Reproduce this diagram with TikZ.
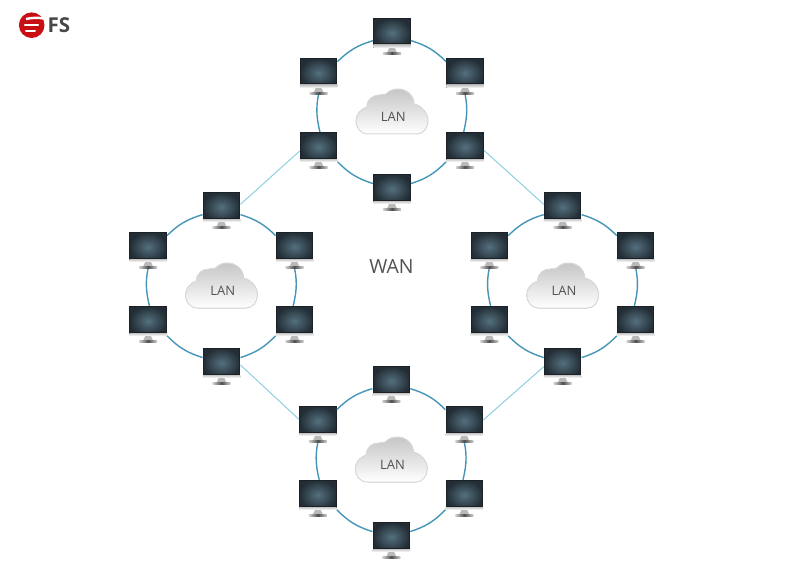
\documentclass[tikz,border=0pt]{standalone}
\usepackage{fontspec}
\setmainfont{Open Sans}
\usetikzlibrary{calc}
\definecolor{ringblue}{HTML}{4596B6}
\definecolor{wanblue}{HTML}{8CCFE0}
\definecolor{bezel}{HTML}{1B2127}
\definecolor{screenmid}{HTML}{54707E}
\definecolor{screenedge}{HTML}{222D35}
\definecolor{fsred}{HTML}{C80F14}
\begin{document}
\begin{tikzpicture}[x=1pt,y=1pt]
\tikzstyle{every node}=[text=black!68]
\tikzstyle{monitor}=[rectangle,inner sep=0,minimum width=37.5pt,minimum height=30pt,fill=bezel,
	path picture={
		\shade[inner color=screenmid,outer color=screenedge] (-17.5,-10) rectangle (17.5,13.5);
		\shade[top color=gray!45,bottom color=white] (-18.75,-12) rectangle (18.75,-15);
	}]
\tikzstyle{ring}=[ringblue,line width=1.4pt]
\tikzstyle{wanlink}=[wanblue,line width=1pt]
\tikzstyle{cloudshape}=[draw=gray!30,line width=1pt,top color=gray!45,bottom color=white]
	\useasboundingbox (0,-575) rectangle (800,0);

	% logo
	\fill[fsred] (31.7,-25.2) circle (12.8);
	\draw[white,line width=2.4pt] (26,-19) to[bend left=10] (44,-18.5);
	\draw[white,line width=2.2pt,line cap=round] (25,-25) -- (38,-25);
	\draw[white,line width=2pt,line cap=round] (26,-31) -- (35,-31);
	\node[inner sep=0,anchor=west,text=black!72] (fslogo) at (47.5,-25) {\fontsize{20.5}{24}\selectfont\bfseries FS};

	\node[inner sep=0] (wan) at (391.5,-267) {\fontsize{19.5}{23}\selectfont WAN};

	% the four LAN rings
	\foreach \name/\cx/\cy in {n/392/-112,w/221.5/-286,e/562.7/-286,s/391.3/-460}{
	\begin{scope}[shift={(\cx,\cy)}]
		\filldraw[cloudshape] (-24,-22) .. controls (-32,-22) and (-36,-15) .. (-36,-9)
			.. controls (-36,-2) and (-31,3) .. (-25,5)
			.. controls (-25,13) and (-19,17) .. (-12,17)
			.. controls (-10,17) and (-8,17) .. (-6,18)
			.. controls (-2,22) and (2,23) .. (6,23)
			.. controls (14,23) and (22,17) .. (22,8)
			.. controls (30,6) and (36,-1) .. (36,-9)
			.. controls (36,-16) and (31,-22) .. (25,-22) -- cycle;
		\node[inner sep=0] (\name lan) at (1.3,-4.6) {\fontsize{13}{15}\selectfont LAN};
		\node[monitor] (\name top) at (0,79) {};
		\node[monitor] (\name ul) at (-73.4,39) {};
		\node[monitor] (\name ur) at (73,39) {};
		\node[monitor] (\name ll) at (-73.4,-35) {};
		\node[monitor] (\name lr) at (73,-35) {};
		\node[monitor] (\name bot) at (0,-77) {};
	\end{scope}
	\foreach \a/\p/\b/\q in {top/202/ul/31,ul/-85/ll/85,ll/-38/bot/164,bot/16/lr/-142,lr/95/ur/-95,ur/149/top/-22}
		\draw[ring] (\name\a.\p) to[bend right=14] (\name\b.\q);
	% stands go over the ring ends
	\foreach \m in {top,ul,ur,ll,lr,bot}{
		\fill[gray!55] ($(\name\m.south)+(-3,0)$) -- ($(\name\m.south)+(3,0)$) -- ($(\name\m.south)+(5,-4.5)$) -- ($(\name\m.south)+(-5,-4.5)$) -- cycle;
		\shade[left color=gray!35,right color=gray!35,middle color=black!70] ($(\name\m.south)+(-9,-4.5)$) rectangle ($(\name\m.south)+(9,-6)$);
	}
	}

	% links between the LANs
	\draw[wanlink] (nll.192) -- (wtop.8);
	\draw[wanlink] (nlr.-10) -- (etop.172);
	\draw[wanlink] (wbot.-6) -- (sul.175);
	\draw[wanlink] (ebot.191) -- (sur.3);
\end{tikzpicture}
\end{document}
